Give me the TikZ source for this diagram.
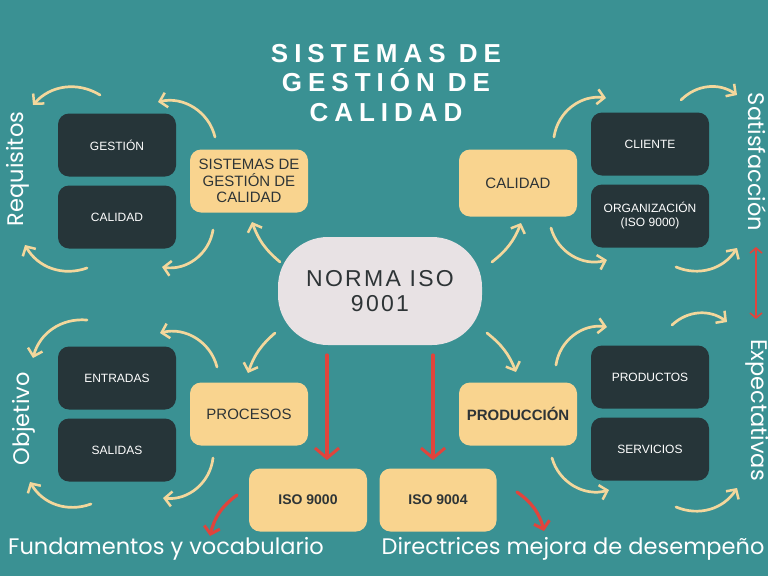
\documentclass[tikz,border=0pt]{standalone}
\usepackage{fontspec}
\setmainfont{Liberation Sans}
\newfontfamily\titlefont[LetterSpace=23]{Liberation Sans}
\newfontfamily\normafont[LetterSpace=10]{Liberation Sans}
\newfontfamily\sidefont{Poppins}
\usepackage{tikz}
\usetikzlibrary{arrows.meta,positioning}

\definecolor{bgteal}{HTML}{3A9193}
\definecolor{boxdark}{HTML}{263539}
\definecolor{boxcream}{HTML}{F9D48F}
\definecolor{arrowcream}{HTML}{F3D79C}
\definecolor{pillgrey}{HTML}{E8E2E4}
\definecolor{inkdark}{HTML}{2E3436}
\definecolor{redarrow}{HTML}{E0443C}

\tikzset{
  darkbox/.style={fill=boxdark, rounded corners=11pt, minimum width=118pt, minimum height=63pt,
    inner sep=0pt, text=white, align=center, font=\fontsize{12}{14}\selectfont},
  creambox/.style={fill=boxcream, rounded corners=11pt, minimum width=118pt, minimum height=63pt,
    inner sep=0pt, text=inkdark, align=center, font=\fontsize{15}{16.5}\selectfont},
  sidetext/.style={text=white, font=\sidefont\fontsize{22.5}{25}\selectfont},
  curvy/.style={draw=arrowcream, line width=2.7pt, line cap=round,
    -{Straight Barb[length=7pt,width=15pt,line width=2.5pt]}},
  redarr/.style={draw=redarrow, line width=3.2pt, line cap=round,
    -{Straight Barb[length=10pt,width=24pt,line width=3pt]}}
}

\begin{document}
\begin{tikzpicture}[x=1pt,y=-1pt]
  \fill[bgteal] (0,0) rectangle (768,576);
  \useasboundingbox (0,0) rectangle (768,576);

  % title
  \node[text=white, align=center, font=\titlefont\bfseries\fontsize{26}{29.5}\selectfont] (title) at (386,83)
    {SISTEMAS DE\\GESTIÓN DE\\CALIDAD};

  % centre
  \node[fill=pillgrey, rounded corners=50pt, minimum width=204pt, minimum height=108pt, inner sep=0pt,
    align=center, text=inkdark, font=\normafont\fontsize{23}{25}\selectfont] (norma) at (380,291)
    {NORMA ISO\\9001};

  % upper left
  \node[darkbox] (gestion) at (117,145) {GESTIÓN};
  \node[darkbox] (calidadA) at (117,217) {CALIDAD};
  \node[creambox] (sgc) at (249,181) {SISTEMAS DE\\GESTIÓN DE\\CALIDAD};

  % upper right
  \node[darkbox] (cliente) at (650,144) {CLIENTE};
  \node[darkbox] (organizacion) at (650,216) {ORGANIZACIÓN\\(ISO 9000)};
  \node[creambox, minimum height=67pt] (calidadB) at (518,183) {CALIDAD};

  % lower left
  \node[darkbox] (entradas) at (117,378) {ENTRADAS};
  \node[darkbox] (salidas) at (117,450) {SALIDAS};
  \node[creambox] (procesos) at (249,414) {PROCESOS};

  % lower right
  \node[darkbox] (productos) at (650,377) {PRODUCTOS};
  \node[darkbox] (servicios) at (650,449) {SERVICIOS};
  \node[creambox, font=\bfseries\fontsize{15}{16.5}\selectfont] (produccion) at (518,414) {PRODUCCIÓN};

  % bottom
  \node[creambox, font=\bfseries\fontsize{14}{16}\selectfont] (isoA) at (308,500) {ISO 9000};
  \node[creambox, minimum width=117pt, font=\bfseries\fontsize{14}{16}\selectfont] (isoB) at (438,500) {ISO 9004};

  % side words
  \node[sidetext, rotate=90] (requisitos) at (18,169) {Requisitos};
  \node[sidetext, rotate=90] (objetivo) at (24,419) {Objetivo};
  \node[sidetext, rotate=-90] (satisfaccion) at (757,162) {Satisfacción};
  \node[sidetext, rotate=-90] (expectativas) at (757,410) {Expectativas};
  \node[sidetext] (fundamentos) at (166,549) {Fundamentos y vocabulario};
  \node[sidetext] (directrices) at (573,549) {Directrices mejora de desempeño};

  % ends of the loose arrows
  \coordinate (ul1s) at (280,262); \coordinate (ul1e) at (252,222);
  \coordinate (ul2s) at (215,137); \coordinate (ul2e) at (158,102);
  \coordinate (ul3s) at (100,95);  \coordinate (ul3e) at (33,105);
  \coordinate (ul4s) at (213,230); \coordinate (ul4e) at (162,267);
  \coordinate (ul5s) at (87,268);  \coordinate (ul5e) at (25,245);
  \coordinate (ur1s) at (492,262); \coordinate (ur1e) at (521,223);
  \coordinate (ur2s) at (554,137); \coordinate (ur2e) at (606,98);
  \coordinate (ur3s) at (681,100); \coordinate (ur3e) at (737,95);
  \coordinate (ur4s) at (551,228); \coordinate (ur4e) at (607,260);
  \coordinate (ur5s) at (676,267); \coordinate (ur5e) at (737,248);
  \coordinate (ll1s) at (275,333); \coordinate (ll1e) at (248,373);
  \coordinate (ll2s) at (217,367); \coordinate (ll2e) at (160,333);
  \coordinate (ll3s) at (87,320);  \coordinate (ll3e) at (33,358);
  \coordinate (ll4s) at (213,458); \coordinate (ll4e) at (163,498);
  \coordinate (ll5s) at (91,504);  \coordinate (ll5e) at (30,482);
  \coordinate (lr1s) at (487,333); \coordinate (lr1e) at (516,372);
  \coordinate (lr2s) at (556,365); \coordinate (lr2e) at (607,327);
  \coordinate (lr3s) at (672,325); \coordinate (lr3e) at (727,322);
  \coordinate (lr4s) at (552,458); \coordinate (lr4e) at (609,490);
  \coordinate (lr5s) at (676,507); \coordinate (lr5e) at (737,488);

  % positive = bends to the left
  \foreach \s/\b in {ul1/15, ul2/-45, ul3/-40, ul4/45, ul5/40,
                     ur1/-15, ur2/45, ur3/40, ur4/-45, ur5/-40,
                     ll1/-15, ll2/-45, ll3/-40, ll4/45, ll5/40,
                     lr1/15, lr2/45, lr3/40, lr4/-45, lr5/-40}
    \draw[curvy] (\s s) to[bend left=\b] (\s e);

  % red arrows
  \coordinate (redAs) at (327,355); \coordinate (redAe) at (327,460);
  \coordinate (redBs) at (433,355); \coordinate (redBe) at (433,460);
  \coordinate (redCs) at (237,495); \coordinate (redCe) at (210,536);
  \coordinate (redDs) at (517,492); \coordinate (redDe) at (544,531);
  \coordinate (redEs) at (756,247); \coordinate (redEe) at (756,319);
  \draw[redarr] (redAs) -- (redAe);
  \draw[redarr] (redBs) -- (redBe);
  \draw[redarr, -{Straight Barb[length=7pt,width=16pt,line width=3pt]}] (redCs) to[bend right=20] (redCe);
  \draw[redarr, -{Straight Barb[length=7pt,width=16pt,line width=3pt]}] (redDs) to[bend left=20] (redDe);
  \draw[redarr, line width=1.6pt, {Straight Barb[length=5pt,width=12pt,line width=1.6pt]}-{Straight Barb[length=5pt,width=12pt,line width=1.6pt]}] (redEs) -- (redEe);
\end{tikzpicture}
\end{document}
